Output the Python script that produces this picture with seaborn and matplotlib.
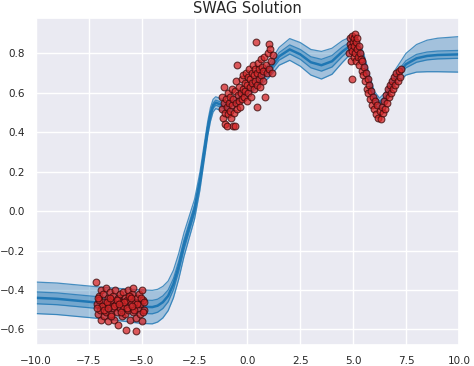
import numpy as np
import matplotlib
matplotlib.use("Agg")
import matplotlib.pyplot as plt
import seaborn as sns

# predictive curve: mean and band half-widths
grid_x = [-10, -9, -8, -7, -6, -5, -4.5, -4.25, -4, -3.75, -3.5, -3.25, -3, -2.75, -2.5,
          -2.25, -2, -1.875, -1.75, -1.625, -1.5, -1.25, -1, -0.5, 0, 0.5, 1, 1.5, 2, 2.5,
          3, 3.5, 4, 4.5, 5, 5.25, 5.5, 5.75, 6, 6.25, 6.5, 6.75, 7, 7.5, 8, 8.5, 9, 10]
mean_y = [-0.44, -0.445, -0.455, -0.465, -0.475, -0.485, -0.487, -0.48, -0.462, -0.43,
          -0.37, -0.28, -0.17, -0.08, 0.01, 0.15, 0.33, 0.42, 0.49, 0.535, 0.55, 0.54,
          0.525, 0.56, 0.61, 0.66, 0.71, 0.785, 0.82, 0.795, 0.755, 0.74, 0.76, 0.81,
          0.85, 0.83, 0.77, 0.67, 0.58, 0.545, 0.57, 0.63, 0.68, 0.745, 0.775, 0.787,
          0.792, 0.795]
outer_hw = [0.08, 0.08, 0.08, 0.08, 0.082, 0.085, 0.085, 0.083, 0.08, 0.075, 0.07, 0.065,
            0.06, 0.055, 0.05, 0.045, 0.04, 0.037, 0.035, 0.032, 0.03, 0.03, 0.03, 0.028,
            0.028, 0.03, 0.035, 0.045, 0.055, 0.06, 0.065, 0.07, 0.066, 0.055, 0.04, 0.035,
            0.03, 0.03, 0.028, 0.028, 0.03, 0.032, 0.038, 0.055, 0.07, 0.08, 0.085, 0.09]
inner_hw = [0.03, 0.03, 0.03, 0.03, 0.032, 0.034, 0.034, 0.033, 0.032, 0.03, 0.028, 0.026,
            0.024, 0.022, 0.02, 0.018, 0.016, 0.015, 0.014, 0.013, 0.013, 0.013, 0.013,
            0.012, 0.012, 0.013, 0.015, 0.019, 0.023, 0.025, 0.028, 0.03, 0.029, 0.024,
            0.017, 0.015, 0.013, 0.013, 0.012, 0.012, 0.013, 0.014, 0.016, 0.018, 0.02,
            0.02, 0.02, 0.02]

# observed points
x1 = [-7.16, -7.11, -7.07, -7.03, -6.97, -6.95, -6.91, -6.85, -6.83, -6.77, -6.75, -6.69,
      -6.67, -6.61, -6.59, -6.53, -6.51, -6.45, -6.43, -6.37, -6.35, -6.29, -6.27, -6.21,
      -6.19, -6.13, -6.11, -6.05, -6.03, -5.97, -5.95, -5.89, -5.87, -5.81, -5.79, -5.74,
      -5.71, -5.65, -5.63, -5.57, -5.55, -5.49, -5.47, -5.41, -5.39, -5.33, -5.27, -5.26,
      -5.21, -5.17, -5.15, -5.09, -5.07, -5.01, -4.99, -4.93, -4.90, -6.88, -6.44, -5.60,
      -7.13, -7.00, -6.80, -6.64, -6.48, -6.32, -6.16, -6.00, -5.84, -5.68, -5.52, -5.36,
      -5.20, -5.04, -4.96, -7.05, -6.58, -6.08, -5.44, -4.88]
y1 = [-0.36, -0.47, -0.52, -0.43, -0.50, -0.40, -0.55, -0.46, -0.42, -0.53, -0.48, -0.39,
      -0.51, -0.44, -0.56, -0.47, -0.41, -0.52, -0.45, -0.49, -0.43, -0.55, -0.40, -0.47,
      -0.51, -0.44, -0.58, -0.42, -0.49, -0.46, -0.53, -0.41, -0.48, -0.44, -0.52, -0.605,
      -0.45, -0.40, -0.50, -0.43, -0.55, -0.47, -0.42, -0.51, -0.39, -0.46, -0.54, -0.61,
      -0.44, -0.49, -0.42, -0.52, -0.47, -0.40, -0.56, -0.45, -0.50, -0.48, -0.53, -0.43,
      -0.49, -0.45, -0.50, -0.46, -0.44, -0.48, -0.45, -0.51, -0.46, -0.49, -0.44, -0.50,
      -0.47, -0.44, -0.51, -0.44, -0.49, -0.47, -0.48, -0.46]

x2 = [-1.22, -1.18, -1.15, -1.12, -1.10, -1.07, -1.04, -1.01, -0.98, -0.96, -0.93, -0.90,
      -0.87, -0.84, -0.81, -0.78, -0.75, -0.72, -0.68, -0.66, -0.62, -0.59, -0.58, -0.56,
      -0.53, -0.50, -0.47, -0.44, -0.41, -0.38, -0.35, -0.32, -0.28, -0.25, -0.22, -0.19,
      -0.16, -0.13, -0.10, -0.07, -0.04, -0.01, 0.02, 0.05, 0.08, 0.11, 0.14, 0.17, 0.20,
      0.23, 0.26, 0.29, 0.32, 0.35, 0.38, 0.41, 0.44, 0.45, 0.47, 0.50, 0.53, 0.56, 0.60,
      0.63, 0.66, 0.70, 0.73, 0.76, 0.80, 0.84, 0.88, 0.92, 0.96, 1.00, 1.04, 1.08, 1.12,
      1.16, 1.20]
y2 = [0.52, 0.58, 0.47, 0.55, 0.63, 0.50, 0.44, 0.57, 0.53, 0.43, 0.60, 0.49,
      0.55, 0.51, 0.58, 0.47, 0.62, 0.54, 0.43, 0.57, 0.50, 0.61, 0.43, 0.55,
      0.66, 0.52, 0.74, 0.59, 0.56, 0.63, 0.53, 0.60, 0.67, 0.57, 0.62, 0.69,
      0.58, 0.65, 0.61, 0.70, 0.56, 0.64, 0.68, 0.60, 0.72, 0.63, 0.67, 0.58, 0.70,
      0.65, 0.74, 0.62, 0.69, 0.66, 0.72, 0.86, 0.64, 0.53, 0.70, 0.75, 0.67, 0.72, 0.63,
      0.77, 0.69, 0.73, 0.66, 0.71, 0.78, 0.58, 0.74, 0.70, 0.80, 0.85, 0.72, 0.82, 0.76,
      0.70, 0.79]

x3 = [4.80, 4.83, 4.86, 4.88, 4.90, 4.93, 4.95, 4.97, 5.00, 5.02, 5.04, 5.06, 5.08, 5.10,
      5.12, 5.15, 5.18, 5.20, 5.23, 5.26, 5.30, 5.33, 5.36, 5.40, 5.44, 5.48, 5.52, 5.56,
      5.60, 5.64, 5.68, 5.72, 5.76, 5.80, 5.85, 5.90, 5.95, 6.00, 6.05, 6.10, 6.15, 6.20,
      6.25, 6.30, 6.35, 6.40, 6.45, 6.50, 6.55, 6.60, 6.65, 6.70, 6.75, 6.80, 6.85, 6.90,
      6.95, 7.00, 7.05, 7.10, 7.15, 7.20, 7.25]
y3 = [0.80, 0.85, 0.88, 0.76, 0.83, 0.67, 0.89, 0.81, 0.86, 0.78, 0.88, 0.84, 0.90, 0.80,
      0.86, 0.76, 0.88, 0.82, 0.78, 0.84, 0.74, 0.80, 0.77, 0.71, 0.76, 0.69, 0.73, 0.66,
      0.70, 0.62, 0.67, 0.60, 0.64, 0.57, 0.61, 0.54, 0.58, 0.52, 0.56, 0.49, 0.54, 0.47,
      0.51, 0.465, 0.53, 0.50, 0.56, 0.52, 0.59, 0.55, 0.62, 0.58, 0.64, 0.60, 0.66, 0.62,
      0.68, 0.64, 0.70, 0.66, 0.71, 0.68, 0.72]

sns.set_theme(style="darkgrid")

fig = plt.figure(figsize=(4.74, 3.66), dpi=100)
ax = fig.add_axes([0.076, 0.057, 0.892, 0.893])

gx = np.array(grid_x)
m = np.array(mean_y)
ow = np.array(outer_hw)
iw = np.array(inner_hw)
blue = "#1f77b4"

ax.fill_between(gx, m - ow, m + ow, color=blue, alpha=0.35, lw=0)
ax.fill_between(gx, m - iw, m + iw, color=blue, alpha=0.35, lw=0)
for edge in [m - ow, m + ow, m - iw, m + iw]:
    sns.lineplot(x=gx, y=edge, color=blue, linewidth=0.9, alpha=0.8, ax=ax)
sns.lineplot(x=gx, y=m, color=blue, linewidth=1.8, ax=ax)

px = x1 + x2 + x3
py = y1 + y2 + y3
sns.scatterplot(x=px, y=py, color="#d62728", edgecolor="#3a0a0a", linewidth=0.8,
                s=24, alpha=0.75, ax=ax, zorder=3)

ax.set_xlim(-10, 10)
ax.set_ylim(-0.68, 0.978)
ax.set_yticks([-0.6, -0.4, -0.2, 0.0, 0.2, 0.4, 0.6, 0.8])
ax.tick_params(labelsize=7.5, pad=2)
ax.set_title("SWAG Solution", fontsize=10.5, pad=4)

plt.savefig("out.png", dpi=100)
